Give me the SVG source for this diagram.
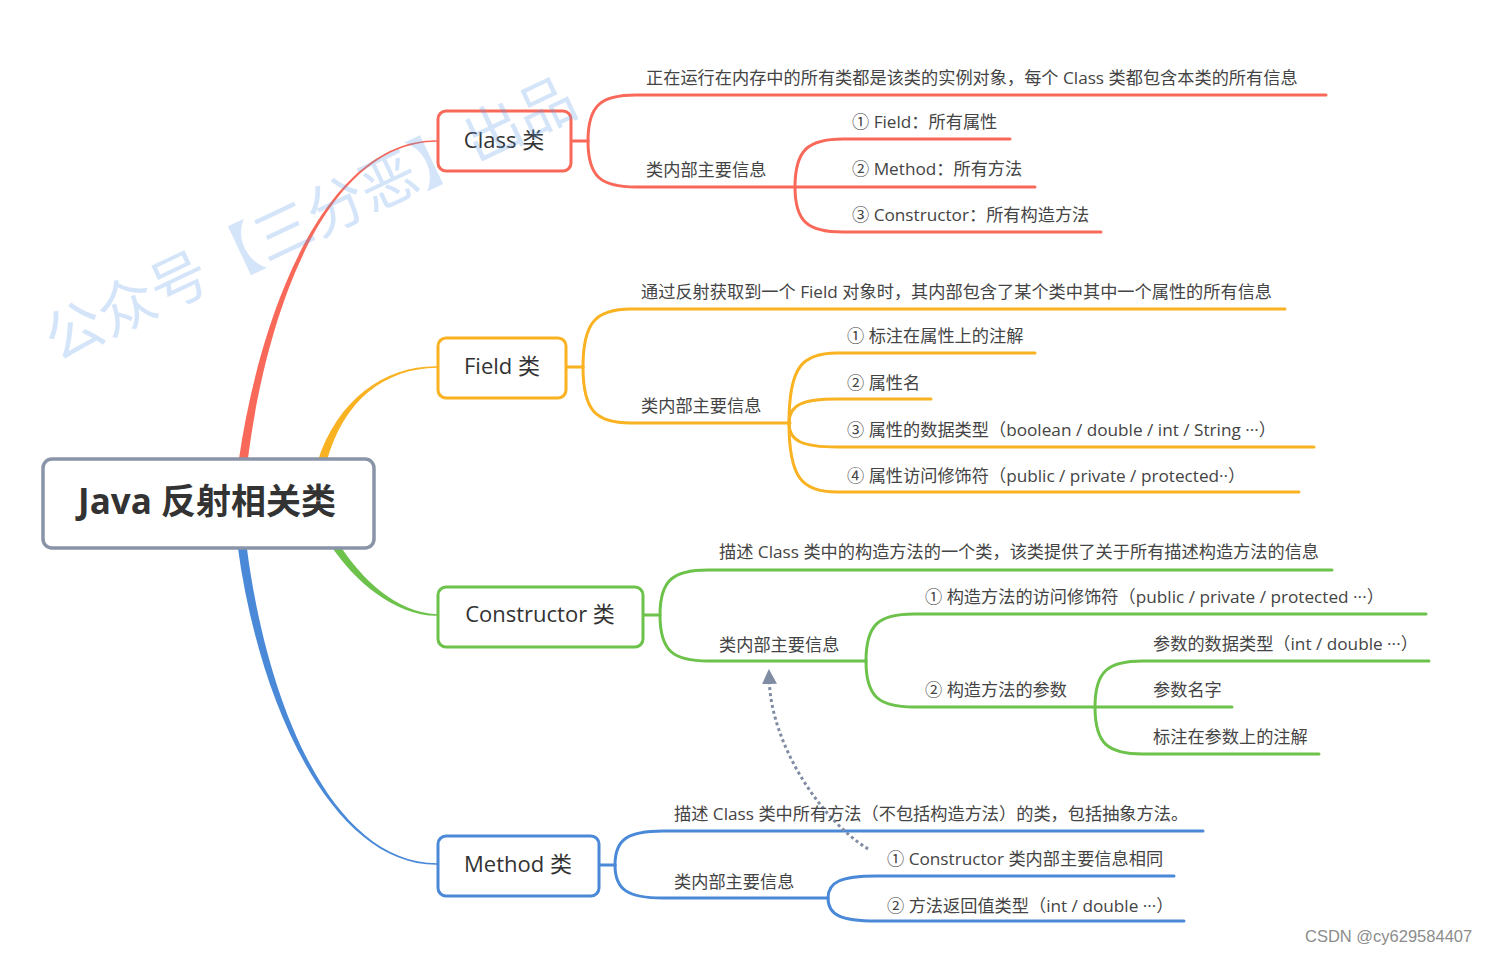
<svg xmlns="http://www.w3.org/2000/svg" width="1488" height="956" viewBox="0 0 1488 956">
<defs>
<style>
text{font-family:"Open Sans","Noto Sans CJK SC",sans-serif;}
.lbl{font-size:17.2px;fill:#444;}
.node-t{font-size:22px;fill:#333;text-anchor:middle;}
.root-t{font-size:35px;font-weight:bold;fill:#333;text-anchor:middle;}
.box{fill:#fff;stroke-width:3;}
.br{fill:none;stroke-width:3;stroke-linecap:round;}
.red{stroke:#f8695a;}
.org{stroke:#f9b221;}
.grn{stroke:#6cc24a;}
.blu{stroke:#4a89d8;}
.wm{font-size:58px;fill:#5b9beb;opacity:0.25;font-family:"Noto Sans CJK SC",sans-serif;}
.csdn{font-family:"Liberation Sans",Arial,sans-serif;font-size:16.5px;fill:#8c8c8c;}
</style>
<marker id="arr" viewBox="0 0 10 10" refX="0" refY="5" markerWidth="5" markerHeight="5" markerUnits="strokeWidth" orient="auto">
<path d="M0,0 L10,5 L0,10 Z" fill="#7f8ca3"/>
</marker>
</defs>
<rect width="1488" height="956" fill="#fff"/>
<g id="connectors">
<path d="M238.5,462 C262,300 330,139.6 437,140.2 L437,141.8 C330,142.4 268,300 247.5,462 Z" fill="#f8695a"/>
<path d="M317.5,462 C336.5,400 385,365.6 437,366.2 L437,367.8 C385,368.4 343.5,400 326.5,462 Z" fill="#f9b221"/>
<path d="M330.5,545 C354,581 395,616 437,615.8 L437,614.2 C395,612 362,579 339.5,545 Z" fill="#6cc24a"/>
<path d="M237.5,545 C258,700 330,865.2 437,864.8 L437,863.2 C330,862.8 266,700 246.5,545 Z" fill="#4a89d8"/>
<g class="br red">
<path d="M571,141 H588"/>
<path d="M588,141 C588,105 601,95 636,95 H1326"/>
<path d="M588,141 C588,177 601,187 636,187 H1035"/>
<path d="M795,187 C795,150 808,139 843,139 H1010"/>
<path d="M795,187 C795,222 808,232 843,232 H1101"/>
</g>
<g class="br org">
<path d="M566,367 H583"/>
<path d="M583,367 C583,322 596,309 631,309 H1285"/>
<path d="M583,367 C583,411 596,423 631,423 H790"/>
<path d="M789,423 C789,367 802,353 837,353 H1035"/>
<path d="M789,423 C789,405 802,399 837,399 H931"/>
<path d="M789,423 C789,441 802,447 837,447 H1314"/>
<path d="M789,423 C789,478 802,492 837,492 H1299"/>
</g>
<g class="br grn">
<path d="M643,615 H660"/>
<path d="M660,615 C660,580 673,570 708,570 H1332"/>
<path d="M660,615 C660,651 673,661 708,661 H866"/>
<path d="M866,661 C866,624 879,614 914,614 H1426"/>
<path d="M866,661 C866,697 879,707 914,707 H1232"/>
<path d="M1095,707 C1095,671 1108,661 1143,661 H1429"/>
<path d="M1095,707 C1095,744 1108,754 1143,754 H1319"/>
</g>
<g class="br blu">
<path d="M599,865 H615"/>
<path d="M615,865 C615,839 628,831 663,831 H1203"/>
<path d="M615,865 C615,890 628,898 663,898 H828"/>
<path d="M828,898 C828,882 841,876 876,876 H1174"/>
<path d="M828,898 C828,915 841,921 876,921 H1184"/>
</g>
<path d="M868,849 C815,815 772,740 769.5,684" fill="none" stroke="#7f8ca3" stroke-width="3" stroke-dasharray="3 3" marker-end="url(#arr)"/>
</g>
<g id="root">
<rect x="43" y="459" width="331" height="89" rx="9" fill="#fff" stroke="#8a94a8" stroke-width="3.5"/>
<text class="root-t" x="207" y="514">Java 反射相关类</text>
</g>
<g id="class">
<rect class="box red" x="438" y="111" width="133" height="60" rx="8"/>
<text class="node-t" x="504" y="148">Class 类</text>
<text class="lbl" x="646" y="84">正在运行在内存中的所有类都是该类的实例对象，每个 Class 类都包含本类的所有信息</text>
<text class="lbl" x="646" y="176">类内部主要信息</text>
<text class="lbl" x="852" y="128">① Field：所有属性</text>
<text class="lbl" x="852" y="175">② Method：所有方法</text>
<text class="lbl" x="852" y="221">③ Constructor：所有构造方法</text>
</g>
<g id="field">
<rect class="box org" x="438" y="338" width="128" height="60" rx="8"/>
<text class="node-t" x="502" y="374">Field 类</text>
<text class="lbl" x="641" y="298">通过反射获取到一个 Field 对象时，其内部包含了某个类中其中一个属性的所有信息</text>
<text class="lbl" x="641" y="412">类内部主要信息</text>
<text class="lbl" x="847" y="342">① 标注在属性上的注解</text>
<text class="lbl" x="847" y="389">② 属性名</text>
<text class="lbl" x="847" y="436">③ 属性的数据类型（boolean / double / int / String ···）</text>
<text class="lbl" x="847" y="482">④ 属性访问修饰符（public / private / protected··）</text>
</g>
<g id="constructor">
<rect class="box grn" x="438" y="587" width="205" height="60" rx="8"/>
<text class="node-t" x="540" y="622">Constructor 类</text>
<text class="lbl" x="719" y="558">描述 Class 类中的构造方法的一个类，该类提供了关于所有描述构造方法的信息</text>
<text class="lbl" x="719" y="651">类内部主要信息</text>
<text class="lbl" x="925" y="603">① 构造方法的访问修饰符（public / private / protected ···）</text>
<text class="lbl" x="925" y="696">② 构造方法的参数</text>
<text class="lbl" x="1153" y="650">参数的数据类型（int / double ···）</text>
<text class="lbl" x="1153" y="696">参数名字</text>
<text class="lbl" x="1153" y="743">标注在参数上的注解</text>
</g>
<g id="method">
<rect class="box blu" x="438" y="836" width="161" height="60" rx="8"/>
<text class="node-t" x="518" y="872">Method 类</text>
<text class="lbl" x="674" y="820">描述 Class 类中所有方法（不包括构造方法）的类，包括抽象方法。</text>
<text class="lbl" x="674" y="888">类内部主要信息</text>
<text class="lbl" x="887" y="865">① Constructor 类内部主要信息相同</text>
<text class="lbl" x="887" y="912">② 方法返回值类型（int / double ···）</text>
</g>
<text class="wm" x="308" y="215" text-anchor="middle" dominant-baseline="central" transform="rotate(-25.4 308 215)">公众号【三分恶】出品</text>
<text class="csdn" x="1305" y="942">CSDN @cy629584407</text>
</svg>
